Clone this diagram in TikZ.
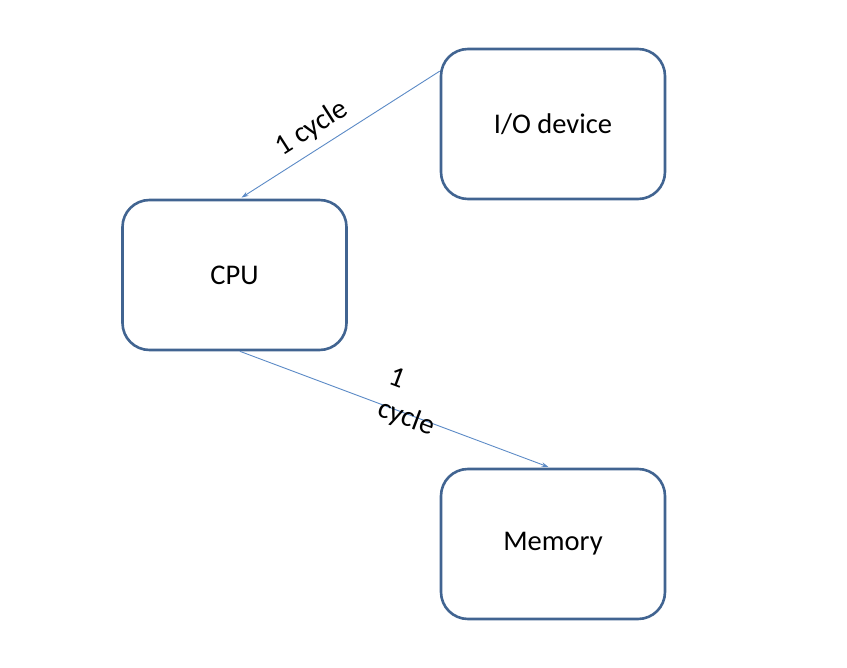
\documentclass[tikz,border=0pt]{standalone}
\usepackage{fontspec}
\setmainfont{Carlito}
\usetikzlibrary{arrows.meta}
\definecolor{boxline}{RGB}{65,100,145}
\definecolor{wire}{RGB}{91,138,198}
\begin{document}
\begin{tikzpicture}
          [x=1pt,y=-1pt,
           unit/.style={draw=boxline, line width=2.6pt, rounded corners=27pt, minimum width=224pt, minimum height=150pt, inner sep=0pt, font=\fontsize{28.5}{34}\selectfont},
           wirearrow/.style={draw=wire, line width=0.9pt, -{Stealth[length=7pt,width=4.5pt]}, shorten >=2pt},
           cyc/.style={font=\fontsize{29}{34}\selectfont, inner sep=2pt, sloped, align=left}]
        \useasboundingbox (0,0) rectangle (847,668);
        \node[unit] (io) at (553,124) {I/O device};
        \node[unit] (cpu) at (234.5,275) {CPU};
        \node[unit] (mem) at (553,544) {Memory};

        \draw[wirearrow] (io.155) -- node[cyc, pos=.585, above=6pt] {1 cycle} (cpu.86);
        \draw[wirearrow] (cpu.-86) -- node[cyc, pos=.54, above=-19pt] {1\\cycle} (mem.92);
      \end{tikzpicture}
\end{document}
